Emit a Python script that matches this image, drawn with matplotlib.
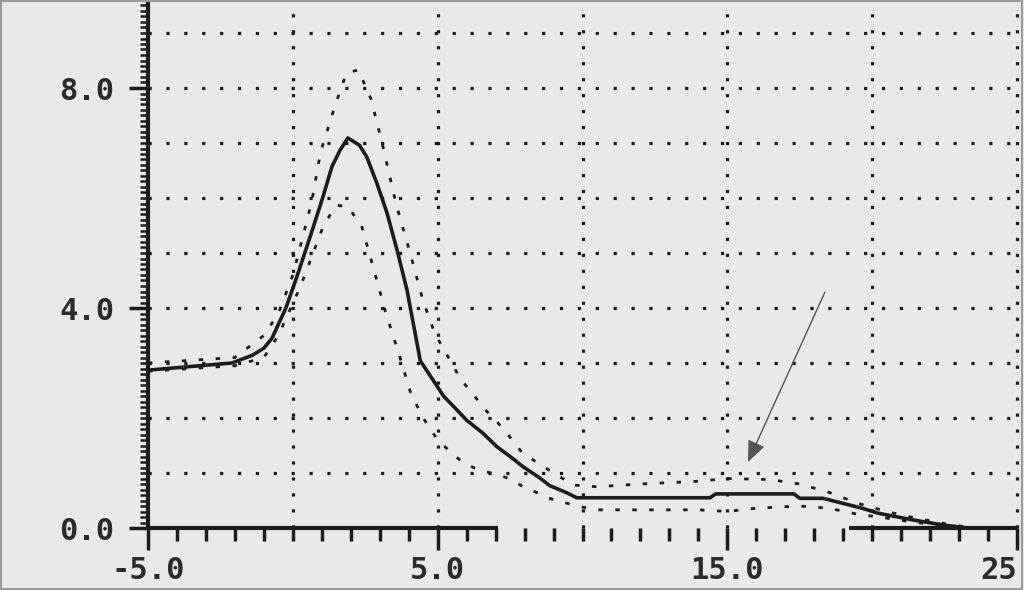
import matplotlib
matplotlib.use("Agg")
import matplotlib.pyplot as plt
from matplotlib.ticker import MultipleLocator, FixedLocator

# solid centre curve
main_x = [-5, -2.1, -1.4, -1.0, -0.72, -0.24, 0.14, 0.6, 1.04, 1.35, 1.63, 1.9, 2.3, 2.55,
          2.9, 3.25, 3.6, 3.94, 4.4, 4.84, 5.2, 5.66, 6.0, 6.57, 7.04, 7.5, 7.96, 8.5,
          8.87, 9.46, 9.8, 10.0, 14.4, 14.6, 17.3, 17.5, 18.3, 19.65, 20.2, 21.37, 22.5,
          23.3]
main_y = [2.87, 3.0, 3.14, 3.27, 3.45, 4.0, 4.57, 5.3, 6.02, 6.57, 6.87, 7.09, 6.96, 6.75,
          6.27, 5.73, 5.05, 4.33, 3.04, 2.69, 2.4, 2.15, 1.96, 1.72, 1.48, 1.3, 1.11, 0.92,
          0.77, 0.64, 0.55, 0.55, 0.55, 0.62, 0.62, 0.54, 0.54, 0.36, 0.27, 0.15, 0.05,
          0.0]

# dotted upper band
upper_x = [-5, -2, -1, -0.5, 0, 0.2, 0.65, 0.96, 1.47, 1.85, 2.26, 2.7, 3.1, 3.56, 4.07,
           4.49, 4.9, 5.8, 6.27, 6.64, 7.05, 7.5, 7.9, 8.4, 9.0, 9.7, 10.5, 12, 14, 15,
           16.5, 17.5, 18.5, 19.5, 20.5, 21.5, 22.5, 23.5]
upper_y = [3.0, 3.1, 3.5, 3.9, 4.6, 5.0, 5.93, 6.84, 7.7, 8.27, 8.33, 7.8, 6.96, 5.9, 4.96,
           4.14, 3.54, 2.7, 2.4, 2.15, 1.93, 1.65, 1.38, 1.2, 1.0, 0.78, 0.75, 0.8, 0.85,
           0.9, 0.88, 0.8, 0.65, 0.45, 0.3, 0.18, 0.08, 0.0]

# dotted lower band
lower_x = [-5, -2, -1, -0.5, 0.27, 1.06, 1.5, 1.9, 2.37, 2.77, 3.2, 3.7, 4.07, 4.5, 5.0,
           5.45, 5.85, 6.27, 6.7, 7.15, 7.6, 8.0, 8.4, 8.8, 9.3, 10, 10.5, 12, 14, 15, 16,
           17.5, 18.5, 19.5, 20.5, 21.5, 22.5, 23.5]
lower_y = [2.85, 2.95, 3.1, 3.5, 4.4, 5.5, 5.87, 5.84, 5.5, 4.75, 3.93, 3.1, 2.45, 2.0, 1.6,
           1.38, 1.2, 1.09, 1.02, 0.96, 0.87, 0.73, 0.65, 0.55, 0.47, 0.38, 0.33, 0.33,
           0.33, 0.3, 0.36, 0.4, 0.36, 0.25, 0.18, 0.1, 0.05, 0.0]

x_ticks = [-5, 5, 15, 25]
x_labels = ["-5.0", "5.0", "15.0", "25"]
y_ticks = [0, 4, 8]
y_labels = ["0.0", "4.0", "8.0"]

# arrow pointing at the small hump
arrow_tail = (18.37, 4.29)
arrow_head = (15.71, 1.2)

BG = "#e9e9e9"
INK = "#1c1c1c"

fig = plt.figure(figsize=(10.24, 5.9), dpi=100, facecolor=BG)
ax = fig.add_axes([148 / 1024, 62 / 590, 869 / 1024, 528 / 590])
ax.set_facecolor(BG)
ax.set_xlim(-5, 25)
ax.set_ylim(0, 9.6)

# dotted grid
for gx in range(0, 26, 5):
    ax.axvline(gx, color=INK, lw=2.3, ls=(0, (1.0, 4.0)), zorder=1, clip_on=False)
for gy in range(1, 10):
    ax.axhline(gy, color=INK, lw=2.3, ls=(0, (1.0, 4.6)), zorder=1)

ax.plot(upper_x, upper_y, color=INK, lw=2.0, ls=(0, (1.6, 4.5)), zorder=2)
ax.plot(lower_x, lower_y, color=INK, lw=2.0, ls=(0, (1.6, 4.5)), zorder=2)
ax.plot(main_x, main_y, color=INK, lw=2.6, zorder=3, solid_joinstyle="round")

ax.annotate("", xy=arrow_head, xytext=arrow_tail,
            arrowprops=dict(arrowstyle="-|>,head_length=1.3,head_width=0.55",
                            color="#555555", lw=1.0, shrinkA=0, shrinkB=0,
                            facecolor="#7a7a7a"), zorder=4)

# axes frame: thick left spine, broken bottom line like the scan
for side in ["top", "right", "bottom"]:
    ax.spines[side].set_visible(False)
ax.spines["left"].set_linewidth(3.0)
ax.spines["left"].set_color(INK)
ax.plot([-5, 7.1], [0, 0], color=INK, lw=3.0, clip_on=False, zorder=5,
        solid_capstyle="butt")
ax.plot([19.2, 25], [0, 0], color=INK, lw=3.0, clip_on=False, zorder=5,
        solid_capstyle="butt")

ax.yaxis.set_major_locator(FixedLocator(y_ticks))
ax.yaxis.set_minor_locator(MultipleLocator(0.1))
ax.set_yticklabels(y_labels)
ax.xaxis.set_major_locator(FixedLocator(x_ticks))
ax.xaxis.set_minor_locator(MultipleLocator(1))
ax.set_xticklabels(x_labels)

ax.tick_params(axis="y", which="major", direction="out", length=14, width=2.5,
               color=INK, pad=10)
ax.tick_params(axis="y", which="minor", direction="out", length=6, width=1.8,
               color=INK)
ax.tick_params(axis="x", which="major", direction="out", length=16, width=2.5,
               color=INK, pad=4)
ax.tick_params(axis="x", which="minor", direction="out", length=9, width=2.5,
               color=INK)

for lab in ax.get_xticklabels() + ax.get_yticklabels():
    lab.set_fontfamily("DejaVu Sans Mono")
    lab.set_fontweight("bold")
    lab.set_fontsize(22)
    lab.set_color("#2b2b2b")
ax.get_xticklabels()[-1].set_horizontalalignment("right")

# thin frame around the scanned picture
fig.patches.append(plt.Rectangle((0.001, 0.001), 0.997, 0.997, transform=fig.transFigure,
                                 fill=False, edgecolor="#9a9a9a", lw=1.5))

fig.savefig("out.png", dpi=100, facecolor=BG)
